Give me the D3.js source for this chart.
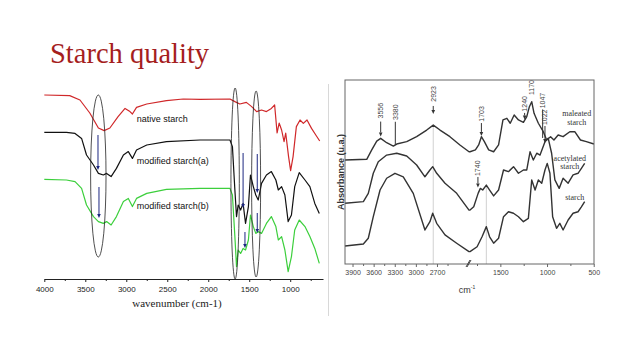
<!DOCTYPE html>
<html>
<head>
<meta charset="utf-8">
<script src="https://cdn.jsdelivr.net/npm/d3@7"></script>
<style>
  body { margin: 0; background: #fff; }
  svg { display: block; }
</style>
</head>
<body>
<div id="viz"></div>
<script>
// ---------- left panel: FTIR transmittance, stacked (arbitrary units) ----------
const nativeWn = [4000, 3690, 3565, 3445, 3340, 3270, 3200, 3100, 3015, 2955, 2925, 2875, 2750, 2510, 2305, 2100, 1735, 1675, 1615, 1535, 1470, 1410, 1350, 1290, 1230, 1190, 1160, 1135, 1105, 1075, 1055, 1020, 995, 965, 925, 880, 840, 795, 740, 680, 640];
const nativeT = [92.5, 92.2, 90, 83.5, 76, 74.7, 76, 81.7, 85.8, 84.2, 83, 86.3, 88, 89.7, 90.5, 90.3, 90.5, 89.2, 88, 88.8, 86.7, 84.2, 85, 84.2, 85.8, 87.5, 73.5, 78.5, 75, 69.2, 73.5, 61.7, 54.7, 61.7, 76.7, 80, 78.3, 80, 75.8, 72, 69.5];

const modWn = [4000, 3730, 3625, 3545, 3485, 3400, 3340, 3280, 3240, 3185, 3120, 3035, 2975, 2925, 2875, 2750, 2510, 2100, 1735, 1705, 1675, 1655, 1635, 1605, 1575, 1545, 1510, 1485, 1450, 1420, 1390, 1350, 1290, 1230, 1175, 1145, 1105, 1065, 1025, 985, 945, 890, 820, 760, 700, 645];
const modAT = [73.8, 73.8, 73.3, 70.8, 62.5, 57.5, 53.3, 52.5, 53.3, 51.7, 55.8, 62.5, 64.2, 60.8, 65, 67.5, 69.2, 70, 70, 66.7, 45, 31.7, 37.5, 35, 38.3, 28.3, 36.7, 52.5, 46.7, 42.5, 40, 48.3, 52.5, 54.2, 50, 45, 46.7, 42.5, 29.2, 32.5, 46.7, 53.7, 50, 46.7, 38.3, 33.3];
const modBT = [50.3, 50, 49.2, 45.8, 37.5, 31.7, 29.2, 28.3, 29.2, 27.5, 31.7, 39.2, 40.8, 36.7, 40.8, 43.3, 45.3, 45.8, 45.8, 42.5, 21.7, 6.7, 15, 13.3, 15.8, 15, 20, 32.5, 26.7, 23.3, 24.2, 23.3, 28.3, 31.7, 26.7, 20, 21.7, 15, 4.2, 11.7, 25, 30, 26.7, 21.7, 15.8, 8.3];

const leftTicks = [4000, 3500, 3000, 2500, 2000, 1500, 1000];
const leftMinor = [3750, 3250, 2750, 2250, 1750, 1250, 750];
const leftLabels = [
  {text: 'native starch', wn: 2873, t: 79.2},
  {text: 'modified starch(a)', wn: 2873, t: 58},
  {text: 'modified starch(b)', wn: 2873, t: 35.5},
];
// ellipses marking bands: centre wavenumber, half width (cm-1), top / bottom (T units)
const bandEllipses = [
  {wn: 3341, half: 94, top: 92.5, bottom: 11.5},
  {wn: 1672, half: 51, top: 96, bottom: 0.5},
  {wn: 1416, half: 55, top: 94.5, bottom: 1.5},
];
const bandArrows = [
  {wn: 3345, from: 72.5, to: 55},
  {wn: 3333, from: 46.5, to: 31},
  {wn: 1575, from: 63.5, to: 36},
  {wn: 1552, from: 24, to: 16},
  {wn: 1402, from: 63, to: 43.5},
  {wn: 1402, from: 33.5, to: 23.5},
];

// ---------- right panel: absorbance, broken x axis (values read against the printed ticks) ----------
const maleatedWn = [4007, 3698, 3627, 3556, 3500, 3415, 3320, 3272, 3130, 2989, 2846, 2753, 2657, 2516, 2374, 2245, 1825, 1767, 1732, 1703, 1671, 1625, 1572, 1519, 1472, 1430, 1394, 1352, 1306, 1253, 1217, 1189, 1164, 1139, 1093, 1040, 1004, 962, 926, 881, 828, 756, 703, 642, 579, 498];
const maleatedA = [56.5, 56.9, 62, 66.8, 68.3, 65.9, 64.1, 65.2, 66.5, 69.2, 72.8, 75.5, 72.8, 69.2, 64.7, 61, 61, 62, 64.7, 69.2, 66.5, 62, 61, 64.7, 78.3, 79.2, 76.5, 81, 78.3, 77, 80.1, 85.5, 88.2, 81.9, 76.5, 71.9, 67.4, 69.2, 67.4, 70.1, 69.2, 71.9, 71.9, 67.4, 66.5, 65.2];

const acetylWn = [4007, 3746, 3676, 3605, 3534, 3415, 3272, 3130, 2989, 2871, 2800, 2761, 2704, 2586, 2420, 2245, 1825, 1785, 1738, 1714, 1689, 1650, 1615, 1572, 1519, 1466, 1413, 1359, 1306, 1253, 1217, 1182, 1147, 1110, 1075, 1022, 987, 951, 916, 870, 828, 774, 721, 668, 632, 597];
const acetylA = [33, 33.9, 38.4, 49.3, 55.6, 59.2, 60.2, 58.7, 53.8, 47.4, 51.1, 52.9, 49.3, 43.9, 38.4, 29.3, 29.3, 31.1, 38.4, 41.1, 40.2, 42.9, 40.2, 37, 40.2, 51.1, 50.2, 52.9, 49.3, 51.1, 51.1, 61, 56.5, 60.2, 59.2, 66.5, 68.3, 60.2, 45.7, 41.1, 46.6, 43.9, 48.4, 49.3, 52, 54.7];

const starchWn = [4007, 3746, 3676, 3605, 3509, 3415, 3297, 3179, 3037, 2871, 2800, 2761, 2704, 2586, 2420, 2245, 1825, 1749, 1696, 1650, 1615, 1572, 1519, 1466, 1413, 1359, 1306, 1253, 1200, 1164, 1128, 1093, 1057, 1022, 998, 969, 940, 898, 863, 828, 774, 721, 668, 632, 597];
const starchA = [9.8, 10.9, 14, 25.7, 40.2, 46.6, 49.3, 47.4, 38.4, 18.5, 23, 27.6, 22.1, 15.8, 11.3, 6.7, 6.7, 9.4, 14.8, 20.3, 14.8, 11.3, 14, 25.7, 28.4, 27.6, 25.7, 23, 24.8, 45.7, 40.2, 45.7, 43.9, 51.1, 54.7, 49.3, 25.7, 19.4, 22.1, 18.5, 23.9, 27.6, 28.4, 31.1, 33.9];

const rightTicks = [3900, 3600, 3300, 3000, 2700, 1500, 1000, 500];
const rightMinor = [3750, 3450, 3150, 2850, 2550, 1750, 1250, 750];
// peak annotations: label, position on the printed axis, text bottom, arrow/line end (A units)
const peakNotes = [
  {label: '3556', wn: 3500, textAt: 79.1, from: 77.4, to: 69.3, head: true},
  {label: '3380', wn: 3292, textAt: 78.3, from: 77.3, to: 64.7, head: false},
  {label: '2923', wn: 2753, textAt: 88.2, from: 85.9, to: 81.5, head: true},
  {label: '1703', wn: 1703, textAt: 77.3, from: 76.6, to: 69.6, head: true},
  {label: '1740', wn: 1740, textAt: 47.8, from: 47.3, to: 41.6, head: true},
  {label: '1240', wn: 1240, textAt: 82.8, from: 82.1, to: 78.5, head: true},
  {label: '1170', wn: 1170, textAt: 91.8, from: null, to: null, head: false},
  {label: '1047', wn: 1047, textAt: 84.6, from: 84, to: 68.5, head: false},
  {label: '1022', wn: 1022, textAt: 75.5, from: 75, to: 65.8, head: true},
];
const guideLines = [{wn: 2753, top: 75.5}, {wn: 1650, top: 42.9}];
const curveNames = [
  {lines: ['maleated', 'starch'], wn: 682, a: 80.4},
  {lines: ['acetylated', 'starch'], wn: 756, a: 56},
  {lines: ['starch'], wn: 703, a: 34.8},
];

// ---------- drawing ----------
const svg = d3.select('#viz').append('svg').attr('width', 638).attr('height', 359);
const sans = 'Liberation Sans, Arial, sans-serif';
const serif = 'Liberation Serif, Times New Roman, serif';

svg.append('text')
  .attr('x', 50).attr('y', 63)
  .text('Starch quality')
  .style('font-family', serif)
  .style('font-size', '28.5px')
  .style('fill', '#a51e1e');

// separator between the two figures
svg.append('line')
  .attr('x1', 328.5).attr('x2', 328.5).attr('y1', 84).attr('y2', 316)
  .style('stroke', '#d8d8d8').style('stroke-width', 1);

/** draws a vertical arrow (or plain line) from y1 down to y2, pixels */
function vArrow(g, x, y1, y2, color, head) {
  const hl = head ? 4 : 0;
  g.append('line')
    .attr('x1', x).attr('x2', x).attr('y1', y1).attr('y2', y2 - hl)
    .style('stroke', color).style('stroke-width', 1);
  if (head) {
    g.append('path')
      .attr('d', `M${x - 1.8},${y2 - hl}L${x + 1.8},${y2 - hl}L${x},${y2}Z`)
      .style('fill', color);
  }
}

// --- left panel
const xL = d3.scaleLinear().domain([4000, 600]).range([44.3, 323]);
const yL = d3.scaleLinear().domain([0, 100]).range([280, 80]);
const left = svg.append('g');

const lineL = d3.line().x(d => xL(d[0])).y(d => yL(d[1]));
const leftSeries = [
  {wn: nativeWn, t: nativeT, color: '#d0282a'},
  {wn: modWn, t: modAT, color: '#111111'},
  {wn: modWn, t: modBT, color: '#3ccf3c'},
];
leftSeries.forEach(s => {
  left.append('path')
    .attr('d', lineL(d3.zip(s.wn, s.t)))
    .style('fill', 'none')
    .style('stroke', s.color)
    .style('stroke-width', 1.2)
    .style('stroke-linejoin', 'round');
});

bandEllipses.forEach(e => {
  left.append('ellipse')
    .attr('cx', xL(e.wn))
    .attr('cy', (yL(e.top) + yL(e.bottom)) / 2)
    .attr('rx', xL(e.wn - e.half) - xL(e.wn))
    .attr('ry', (yL(e.bottom) - yL(e.top)) / 2)
    .style('fill', 'none')
    .style('stroke', '#222')
    .style('stroke-width', 0.8);
});

bandArrows.forEach(a => vArrow(left, xL(a.wn), yL(a.from), yL(a.to), '#1c2680', true));

leftLabels.forEach(l => {
  left.append('text')
    .attr('x', xL(l.wn)).attr('y', yL(l.t))
    .text(l.text)
    .style('font-family', sans).style('font-size', '9px').style('fill', '#111');
});

const axL = left.append('g').attr('transform', 'translate(0,279)')
  .call(d3.axisBottom(xL).tickValues(leftTicks).tickSize(3).tickSizeOuter(0).tickPadding(4).tickFormat(d3.format('d')));
axL.selectAll('text').style('font-family', sans).style('font-size', '8px').style('fill', '#222');
axL.selectAll('path, line').style('stroke', '#222');
left.append('g').attr('transform', 'translate(0,279)')
  .call(d3.axisBottom(xL).tickValues(leftMinor).tickSize(2).tickFormat(''))
  .call(g => g.select('.domain').remove())
  .selectAll('line').style('stroke', '#222');

left.append('text')
  .attr('x', 177).attr('y', 307)
  .attr('text-anchor', 'middle')
  .text('wavenumber (cm-1)')
  .style('font-family', serif).style('font-size', '11px').style('fill', '#222');

// --- right panel
const xR = d3.scaleLinear().domain([4007, 2245, 1825, 497]).range([345, 469, 470, 594]);
const yR = d3.scaleLinear().domain([0, 100]).range([264, 80]);
const right = svg.append('g');
const ink = '#333';

guideLines.forEach(g => {
  right.append('line')
    .attr('x1', xR(g.wn)).attr('x2', xR(g.wn))
    .attr('y1', yR(g.top)).attr('y2', yR(0))
    .style('stroke', '#c4c4c4').style('stroke-width', 0.8);
});

const lineR = d3.line().x(d => xR(d[0])).y(d => yR(d[1]));
[[maleatedWn, maleatedA], [acetylWn, acetylA], [starchWn, starchA]].forEach(([wn, a]) => {
  right.append('path')
    .attr('d', lineR(d3.zip(wn, a)))
    .style('fill', 'none')
    .style('stroke', ink)
    .style('stroke-width', 1.4)
    .style('stroke-linejoin', 'round');
});

right.append('rect')
  .attr('x', xR(4007)).attr('y', yR(100))
  .attr('width', xR(497) - xR(4007)).attr('height', yR(0) - yR(100))
  .style('fill', 'none').style('stroke', '#666').style('stroke-width', 1);

peakNotes.forEach(p => {
  const x = xR(p.wn);
  right.append('text')
    .attr('transform', `translate(${x + 2.5},${yR(p.textAt)}) rotate(-90)`)
    .text(p.label)
    .style('font-family', sans).style('font-size', '7px').style('fill', '#444');
  if (p.from !== null) vArrow(right, x, yR(p.from), yR(p.to), ink, p.head);
});

curveNames.forEach(c => {
  c.lines.forEach((t, i) => {
    right.append('text')
      .attr('x', xR(c.wn)).attr('y', yR(c.a) + i * 8.5)
      .attr('text-anchor', 'middle')
      .text(t)
      .style('font-family', serif).style('font-size', '8px').style('fill', '#333');
  });
});

const axR = right.append('g').attr('transform', `translate(0,${yR(0)})`)
  .call(d3.axisBottom(xR).tickValues(rightTicks).tickSize(3).tickPadding(3).tickFormat(d3.format('d')))
  .call(g => g.select('.domain').remove());
axR.selectAll('text').style('font-family', sans).style('font-size', '7px').style('fill', '#444');
axR.selectAll('line').style('stroke', '#666');
right.append('g').attr('transform', `translate(0,${yR(0)})`)
  .call(d3.axisBottom(xR).tickValues(rightMinor).tickSize(2).tickFormat(''))
  .call(g => g.select('.domain').remove())
  .selectAll('line').style('stroke', '#666');

// axis break marks
[2245, 1825].forEach(wn => {
  const x = xR(wn);
  right.append('line')
    .attr('x1', x - 3).attr('x2', x + 1).attr('y1', yR(0) + 3).attr('y2', yR(0) - 4)
    .style('stroke', '#444').style('stroke-width', 1);
});

right.append('text')
  .attr('transform', `translate(344,${(yR(0) + yR(100)) / 2}) rotate(-90)`)
  .attr('text-anchor', 'middle')
  .text('Absorbance (u.a.)')
  .style('font-family', sans).style('font-size', '9px').style('font-weight', 'bold').style('fill', '#333');

const cm = right.append('text')
  .attr('x', 467).attr('y', 293)
  .attr('text-anchor', 'middle')
  .style('font-family', sans).style('font-size', '9px').style('fill', '#333');
cm.append('tspan').text('cm');
cm.append('tspan').attr('dy', -4).style('font-size', '5px').text('-1');
</script>
</body>
</html>
